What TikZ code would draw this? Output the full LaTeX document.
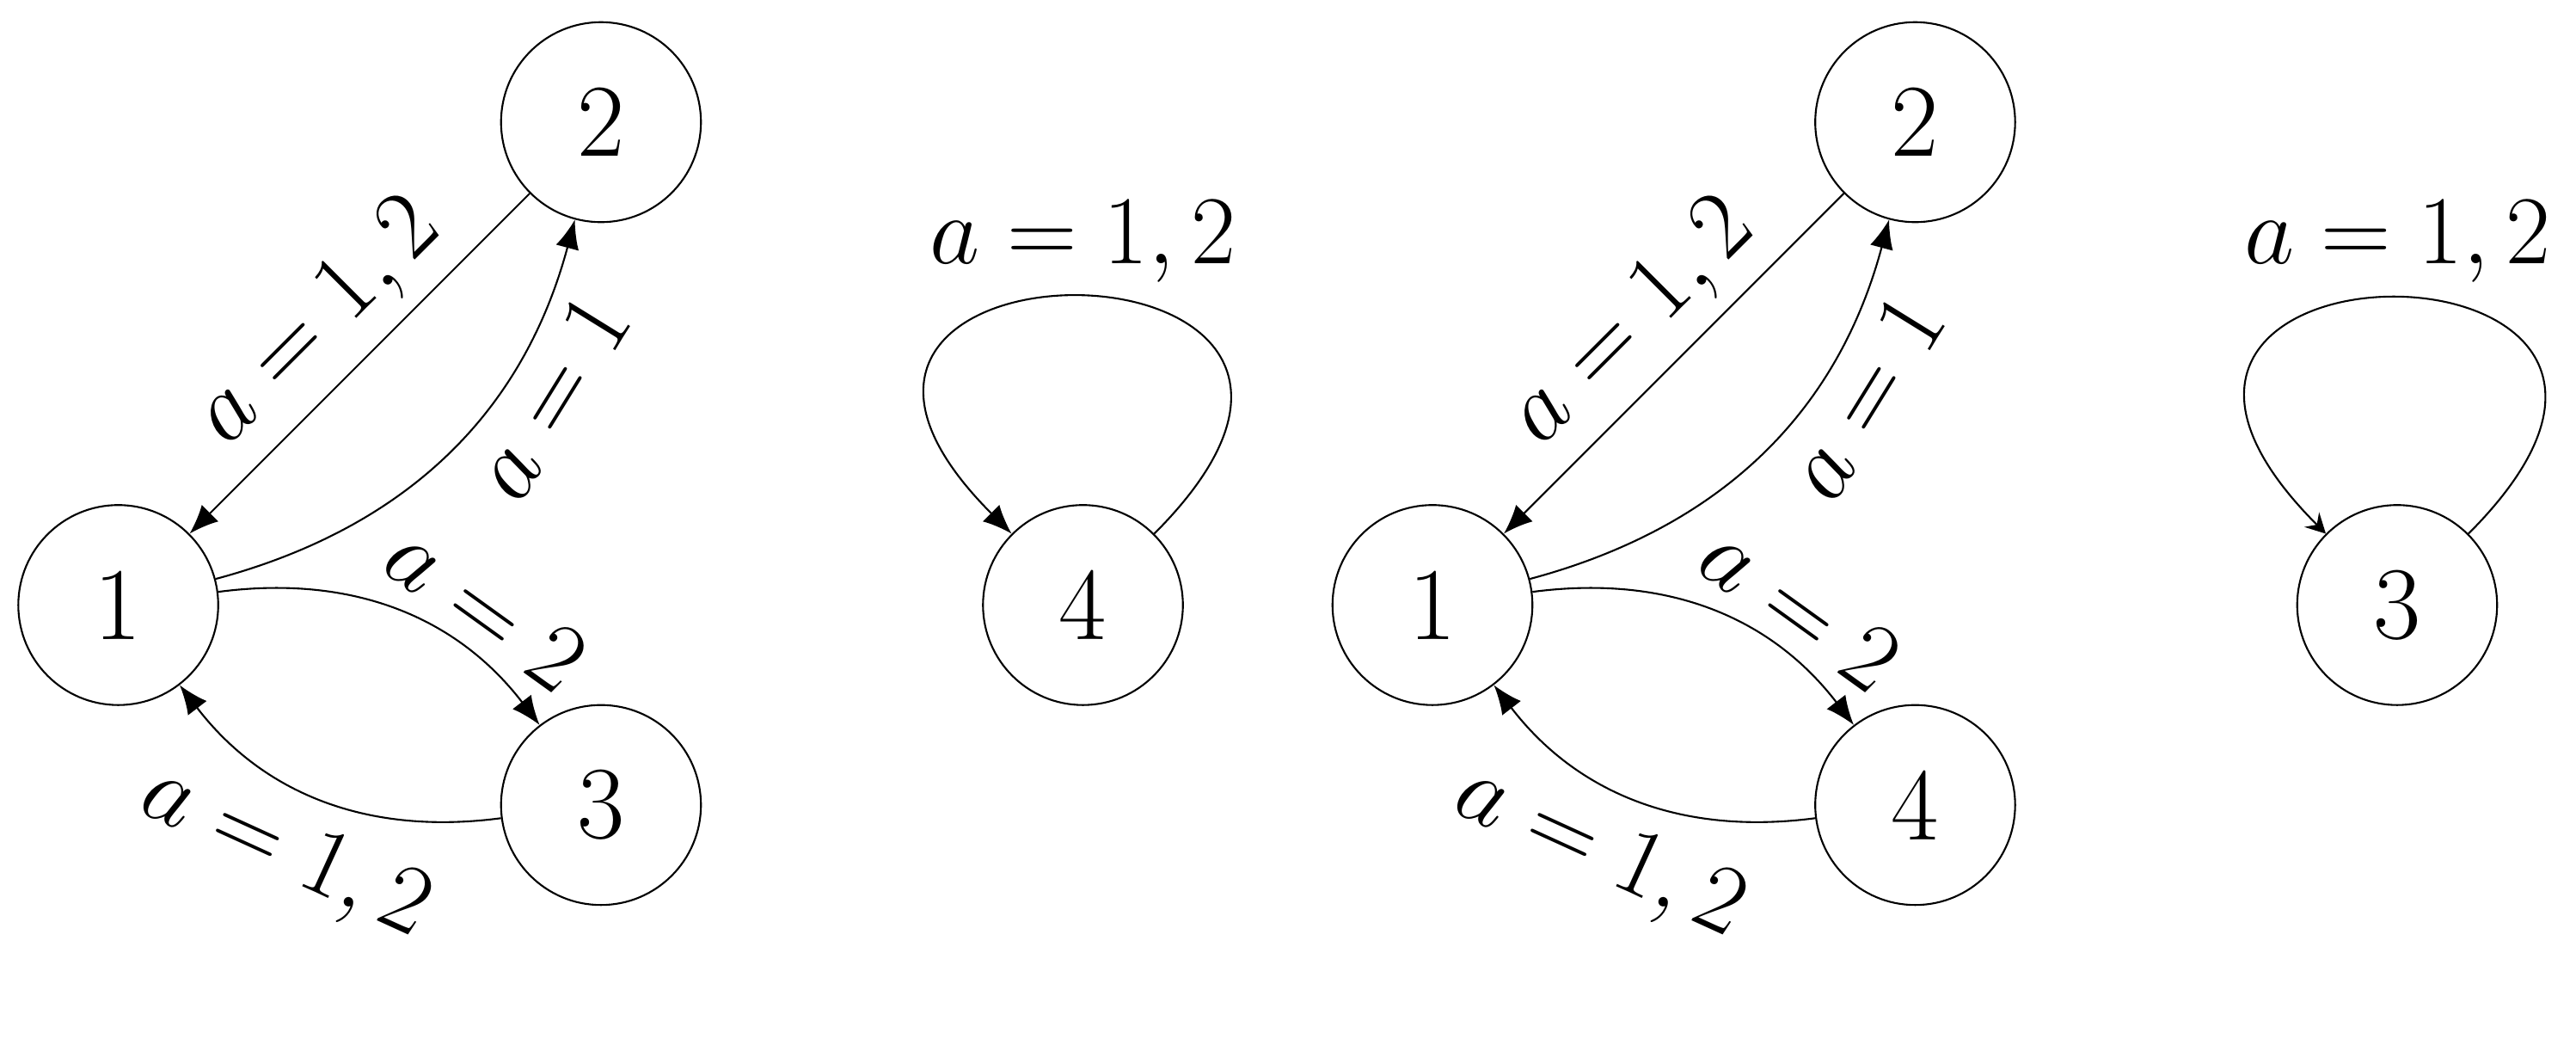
\documentclass[tikz,border=0pt]{standalone}
\usetikzlibrary{arrows.meta, positioning}
\tikzset{every node/.style={font=\huge},
vtx/.style={circle,draw,minimum size=1.55cm,inner sep=0pt,font=\fontsize{22.8pt}{27pt}\selectfont},
lbl/.style={inner sep=3pt,scale=1.035},
line/.style={-{Latex[length=6.4pt,width=5.2pt]}},
loopline/.style={-{Stealth[length=4.4pt,width=4.6pt,inset=1.6pt]}}}

\begin{document}
\begin{tikzpicture}[node distance=3.743cm and 3.743cm, on grid]
\useasboundingbox (-0.917,-3.363) rectangle (19.057,4.69);
% left pair
\node[vtx] (l1) {1};
\node[vtx, above right=of l1] (l2) {2};
\node[vtx, below right=1.55cm and 3.743cm of l1] (l3) {3};
\node[vtx, right=7.48cm of l1] (l4) {4};
\draw[line] (l2) -- node[lbl, above, sloped] {$a=1,2$} (l1);
\draw[line] (l1) to[bend right=30] node[lbl, below, sloped, pos=0.7] {$a=1$} (l2);
\draw[line] (l1) to[bend left=30] node[lbl, above, sloped, pos=0.7] {$a=2$} (l3);
\draw[line] (l3) to[bend left=30] node[lbl, below, sloped, pos=0.53, inner sep=5pt] {$a=1,2$} (l1);
\draw[line] (l4) to[out=45, in=135, looseness=8] node[lbl, above] {$a=1,2$} (l4);
% right pair
\node[vtx, right=10.19cm of l1] (r1) {1};
\node[vtx, above right=of r1] (r2) {2};
\node[vtx, below right=1.55cm and 3.743cm of r1] (r4) {4};
\node[vtx, right=7.48cm of r1] (r3) {3};
\draw[line] (r2) -- node[lbl, above, sloped] {$a=1,2$} (r1);
\draw[line] (r1) to[bend right=30] node[lbl, below, sloped, pos=0.7] {$a=1$} (r2);
\draw[line] (r1) to[bend left=30] node[lbl, above, sloped, pos=0.7] {$a=2$} (r4);
\draw[line] (r4) to[bend left=30] node[lbl, below, sloped, pos=0.53, inner sep=5pt] {$a=1,2$} (r1);
\draw[loopline] (r3) to[out=45, in=135, looseness=8] node[lbl, above] {$a=1,2$} (r3);
\end{tikzpicture}
\end{document}
